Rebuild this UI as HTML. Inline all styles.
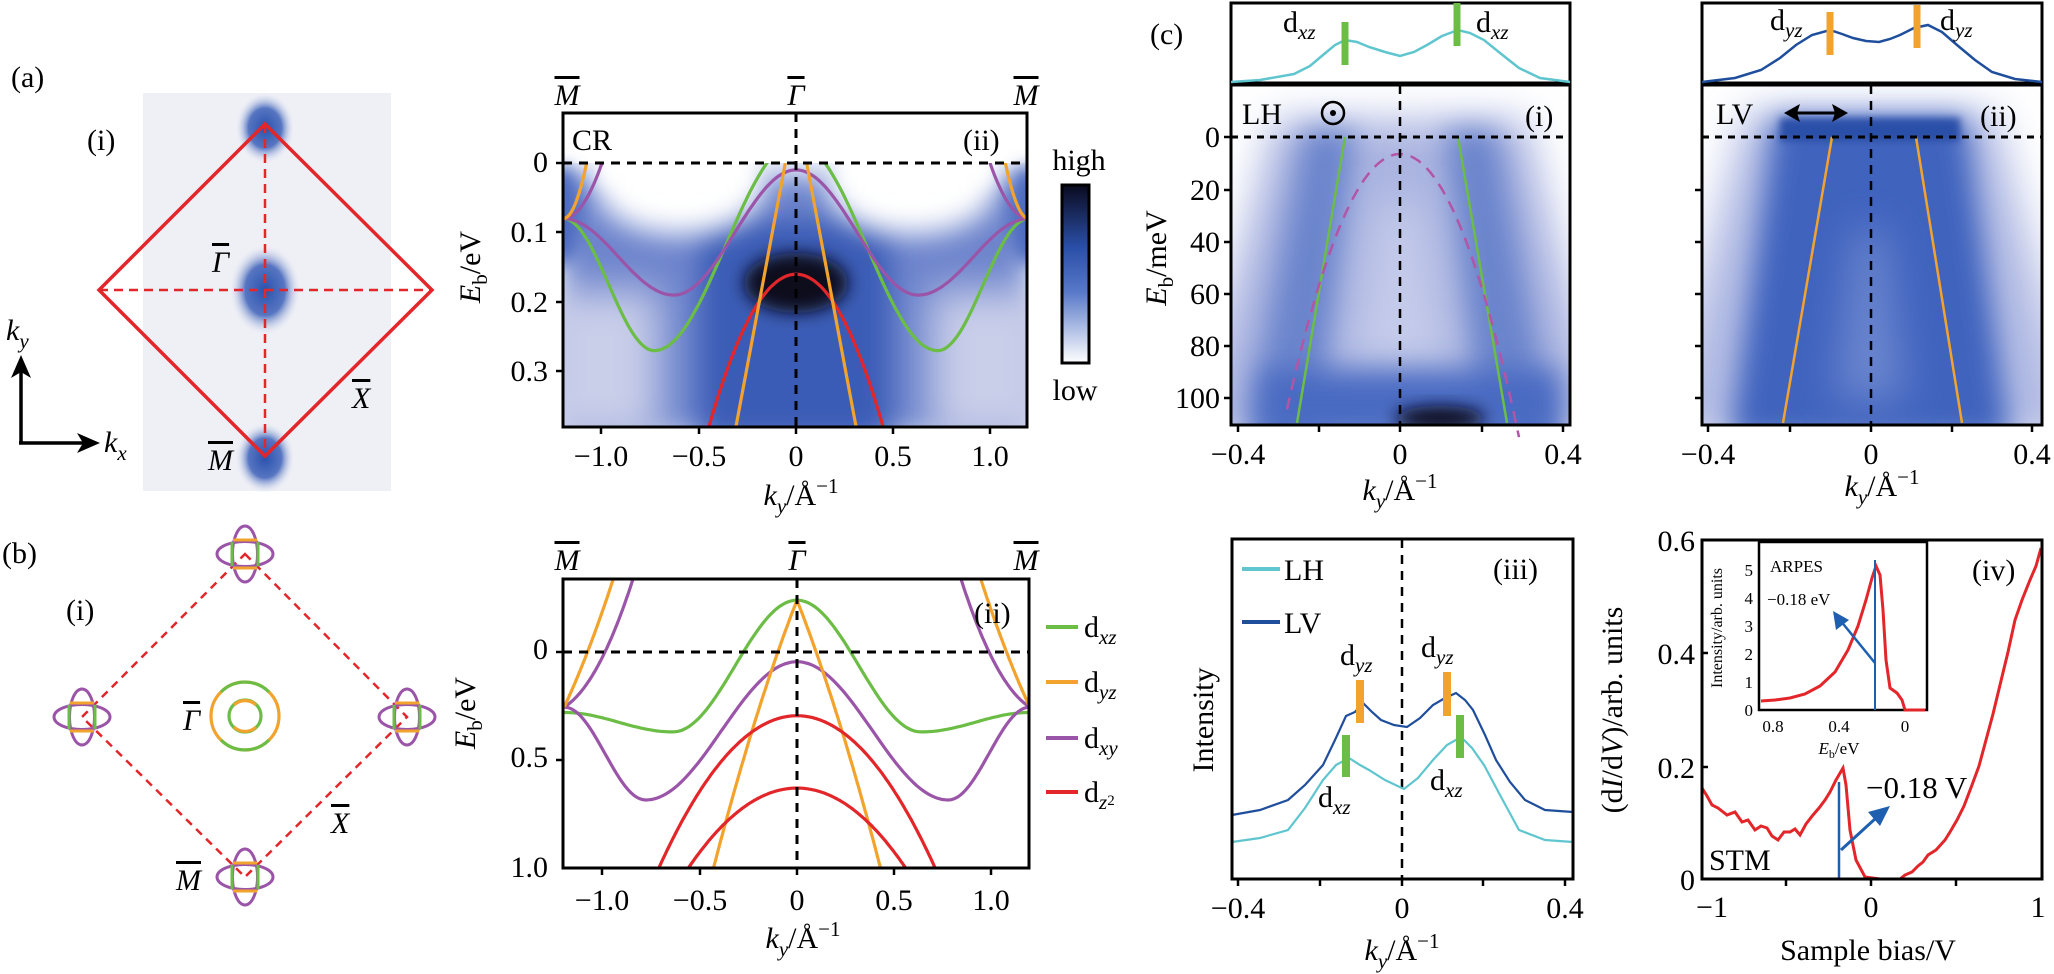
<!DOCTYPE html>
<html><head><meta charset="utf-8"><style>
html,body{margin:0;padding:0;background:#fff;}
svg{display:block;font-family:"Liberation Serif","DejaVu Serif",serif;}
svg text{font-family:"Liberation Serif","DejaVu Serif",serif;}
.ob{text-decoration:overline;}
</style></head><body>
<svg id="s" width="2054" height="974" viewBox="0 0 2054 974" xmlns="http://www.w3.org/2000/svg" font-family="Liberation Serif, serif">
<defs>
<filter id="b4" x="-50%" y="-50%" width="200%" height="200%"><feGaussianBlur stdDeviation="4"/></filter>
<filter id="b8" x="-50%" y="-50%" width="200%" height="200%"><feGaussianBlur stdDeviation="8"/></filter>
<filter id="b14" x="-50%" y="-50%" width="200%" height="200%"><feGaussianBlur stdDeviation="14"/></filter>
<filter id="b20" x="-50%" y="-50%" width="200%" height="200%"><feGaussianBlur stdDeviation="20"/></filter>
<radialGradient id="blob"><stop offset="0" stop-color="#2a52ad"/><stop offset="0.55" stop-color="#3b5fb8" stop-opacity="0.85"/><stop offset="1" stop-color="#eef0f7" stop-opacity="0"/></radialGradient>
<linearGradient id="cbar" x1="0" y1="0" x2="0" y2="1"><stop offset="0" stop-color="#0a0a1e"/><stop offset="0.35" stop-color="#2a4fa8"/><stop offset="0.6" stop-color="#5878c8"/><stop offset="1" stop-color="#ffffff"/></linearGradient>
<clipPath id="ca"><rect x="563" y="113" width="464" height="314"/></clipPath>
<clipPath id="caL"><rect x="563" y="163" width="464" height="264"/></clipPath>
<clipPath id="cb"><rect x="563" y="579" width="466" height="289"/></clipPath>
<clipPath id="c1"><rect x="1231" y="85" width="339" height="340"/></clipPath>
<clipPath id="c2"><rect x="1702" y="85" width="340" height="340"/></clipPath>
</defs>

<!-- ============ (a)(i) ============ -->
<text x="11" y="87" font-size="30">(a)</text>
<rect x="143" y="93" width="248" height="398" fill="#eff0f6"/>
<ellipse cx="265" cy="128" rx="30" ry="36" fill="url(#blob)"/>
<ellipse cx="265" cy="290" rx="36" ry="46" fill="url(#blob)"/>
<ellipse cx="265" cy="458" rx="30" ry="36" fill="url(#blob)"/>
<polygon points="265,124 432,290 265,456 99,290" fill="none" stroke="#e2262a" stroke-width="3.5"/>
<line x1="99" y1="290" x2="432" y2="290" stroke="#e2262a" stroke-width="2.5" stroke-dasharray="9,6"/>
<line x1="265" y1="124" x2="265" y2="456" stroke="#e2262a" stroke-width="2.5" stroke-dasharray="9,6"/>
<text x="87" y="150" font-size="30">(i)</text>
<text x="212" y="272" font-size="30" font-style="italic" class="ob">Γ</text>
<text x="352" y="408" font-size="30" font-style="italic" class="ob">X</text>
<text x="208" y="470" font-size="30" font-style="italic" class="ob">M</text>
<line x1="21" y1="443" x2="21" y2="372" stroke="#000" stroke-width="3.5"/>
<polygon points="21,355 11,378 21,372 31,378" fill="#000"/>
<line x1="19" y1="443" x2="84" y2="443" stroke="#000" stroke-width="3.5"/>
<polygon points="100,443 77,433 83,443 77,453" fill="#000"/>
<text x="6" y="340" font-size="30" font-style="italic">k<tspan font-size="21" dy="8">y</tspan></text>
<text x="104" y="452" font-size="30" font-style="italic">k<tspan font-size="21" dy="8">x</tspan></text>

<!-- ============ (a)(ii) heatmap ============ -->
<g clip-path="url(#ca)">
 <rect x="563" y="113" width="464" height="314" fill="#fff"/>
 <rect x="563" y="175" width="464" height="260" fill="#6d84cc" filter="url(#b14)"/>
 <rect x="540" y="290" width="120" height="150" fill="#c9cee9" filter="url(#b20)"/>
 <rect x="930" y="290" width="120" height="150" fill="#c9cee9" filter="url(#b20)"/>
 <rect x="700" y="220" width="190" height="220" fill="#3a5cb6" filter="url(#b14)"/>
 <ellipse cx="680" cy="185" rx="85" ry="50" fill="#fff" filter="url(#b14)"/>
 <ellipse cx="912" cy="185" rx="85" ry="50" fill="#fff" filter="url(#b14)"/>
 <rect x="563" y="113" width="464" height="50" fill="#fff"/>
 <rect x="600" y="150" width="150" height="35" fill="#fff" filter="url(#b8)"/>
 <rect x="842" y="150" width="150" height="35" fill="#fff" filter="url(#b8)"/>
 <ellipse cx="563" cy="215" rx="20" ry="50" fill="#4d6cc0" filter="url(#b8)"/>
 <ellipse cx="1027" cy="215" rx="20" ry="50" fill="#4d6cc0" filter="url(#b8)"/>
 <ellipse cx="796" cy="283" rx="52" ry="30" fill="#08081a" filter="url(#b8)"/>
</g>
<g clip-path="url(#caL)" id="bandsA" fill="none" stroke-width="3.2"></g>
<line x1="563" y1="163" x2="1027" y2="163" stroke="#000" stroke-width="3" stroke-dasharray="9,7"/>
<line x1="796" y1="113" x2="796" y2="427" stroke="#000" stroke-width="3" stroke-dasharray="9,7"/>
<rect x="563" y="113" width="464" height="314" fill="none" stroke="#000" stroke-width="3"/>
<g stroke="#000" stroke-width="2.5">
<line x1="601" y1="427" x2="601" y2="434"/><line x1="699" y1="427" x2="699" y2="434"/><line x1="796" y1="427" x2="796" y2="434"/><line x1="893" y1="427" x2="893" y2="434"/><line x1="990" y1="427" x2="990" y2="434"/>
<line x1="556" y1="163" x2="563" y2="163"/><line x1="556" y1="232" x2="563" y2="232"/><line x1="556" y1="302" x2="563" y2="302"/><line x1="556" y1="371" x2="563" y2="371"/>
</g>
<g font-size="30" text-anchor="middle">
<text x="601" y="466">−1.0</text><text x="699" y="466">−0.5</text><text x="796" y="466">0</text><text x="893" y="466">0.5</text><text x="990" y="466">1.0</text>
</g>
<g font-size="30" text-anchor="end">
<text x="548" y="172">0</text><text x="548" y="242">0.1</text><text x="548" y="312">0.2</text><text x="548" y="381">0.3</text>
</g>
<text transform="translate(480,267) rotate(-90)" font-size="30" text-anchor="middle"><tspan font-style="italic">E</tspan><tspan font-size="21" dy="7">b</tspan><tspan dy="-7">/eV</tspan></text>
<text x="801" y="505" font-size="30" text-anchor="middle"><tspan font-style="italic">k</tspan><tspan font-size="21" font-style="italic" dy="8">y</tspan><tspan dy="-8">/Å</tspan><tspan font-size="21" dy="-12">−1</tspan></text>
<g font-size="30" font-style="italic" text-anchor="middle" class="ob">
<text x="567" y="105" class="ob">M</text><text x="796" y="105" class="ob">Γ</text><text x="1026" y="105" class="ob">M</text>
</g>
<text x="572" y="150" font-size="30">CR</text>
<text x="963" y="150" font-size="30">(ii)</text>
<rect x="1062" y="185" width="27" height="178" fill="url(#cbar)" stroke="#000" stroke-width="3"/>
<text x="1079" y="170" font-size="30" text-anchor="middle">high</text>
<text x="1075" y="400" font-size="30" text-anchor="middle">low</text>

<!-- ============ (b)(i) ============ -->
<text x="2" y="563" font-size="30">(b)</text>
<text x="66" y="620" font-size="30">(i)</text>
<polygon points="245,554 407,717 245,877 82,717" fill="none" stroke="#e2262a" stroke-width="2.5" stroke-dasharray="8,6"/>
<g id="corners"></g>
<g fill="none" stroke-width="3.2">
 <circle cx="245" cy="716" r="34" stroke="#f2a32e"/>
 <path d="M221,692 A34,34 0 0 1 269,692" stroke="#6cbd46"/>
 <path d="M221,740 A34,34 0 0 0 269,740" stroke="#6cbd46"/>
 <circle cx="245" cy="716" r="16" stroke="#6cbd46"/>
 <path d="M234,705 A16,16 0 0 1 256,705" stroke="#f2a32e"/>
 <path d="M234,727 A16,16 0 0 0 256,727" stroke="#f2a32e"/>
</g>
<text x="183" y="730" font-size="30" font-style="italic" class="ob">Γ</text>
<text x="331" y="833" font-size="30" font-style="italic" class="ob">X</text>
<text x="176" y="890" font-size="30" font-style="italic" class="ob">M</text>

<!-- ============ (b)(ii) ============ -->
<g clip-path="url(#cb)" id="bandsB" fill="none" stroke-width="3.2"></g>
<line x1="563" y1="652" x2="1029" y2="652" stroke="#000" stroke-width="3" stroke-dasharray="9,7"/>
<line x1="797" y1="579" x2="797" y2="868" stroke="#000" stroke-width="3" stroke-dasharray="9,7"/>
<rect x="563" y="579" width="466" height="289" fill="none" stroke="#000" stroke-width="3"/>
<g stroke="#000" stroke-width="2.5">
<line x1="602" y1="868" x2="602" y2="875"/><line x1="700" y1="868" x2="700" y2="875"/><line x1="797" y1="868" x2="797" y2="875"/><line x1="894" y1="868" x2="894" y2="875"/><line x1="991" y1="868" x2="991" y2="875"/>
<line x1="556" y1="652" x2="563" y2="652"/><line x1="556" y1="760" x2="563" y2="760"/>
</g>
<g font-size="30" text-anchor="middle">
<text x="602" y="910">−1.0</text><text x="700" y="910">−0.5</text><text x="797" y="910">0</text><text x="894" y="910">0.5</text><text x="991" y="910">1.0</text>
</g>
<g font-size="30" text-anchor="end">
<text x="548" y="659">0</text><text x="548" y="767">0.5</text><text x="548" y="877">1.0</text>
</g>
<text transform="translate(475,713) rotate(-90)" font-size="30" text-anchor="middle"><tspan font-style="italic">E</tspan><tspan font-size="21" dy="7">b</tspan><tspan dy="-7">/eV</tspan></text>
<text x="803" y="948" font-size="30" text-anchor="middle"><tspan font-style="italic">k</tspan><tspan font-size="21" font-style="italic" dy="8">y</tspan><tspan dy="-8">/Å</tspan><tspan font-size="21" dy="-12">−1</tspan></text>
<g font-size="30" font-style="italic" text-anchor="middle">
<text x="567" y="570" class="ob">M</text><text x="797" y="570" class="ob">Γ</text><text x="1026" y="570" class="ob">M</text>
</g>
<text x="974" y="623" font-size="30">(ii)</text>
<g stroke-width="4">
<line x1="1046" y1="627" x2="1078" y2="627" stroke="#6cbd46"/>
<line x1="1046" y1="682" x2="1078" y2="682" stroke="#f2a32e"/>
<line x1="1046" y1="738" x2="1078" y2="738" stroke="#9b55a8"/>
<line x1="1046" y1="792" x2="1078" y2="792" stroke="#e2262a"/>
</g>
<g font-size="30">
<text x="1084" y="637">d<tspan font-size="21" font-style="italic" dy="7">xz</tspan></text>
<text x="1084" y="692">d<tspan font-size="21" font-style="italic" dy="7">yz</tspan></text>
<text x="1084" y="748">d<tspan font-size="21" font-style="italic" dy="7">xy</tspan></text>
<text x="1084" y="802">d<tspan font-size="21" font-style="italic" dy="7">z</tspan><tspan font-size="15" dy="-4">2</tspan></text>
</g>

<!-- ============ (c) top EDC boxes ============ -->
<text x="1150" y="44" font-size="30">(c)</text>
<rect x="1231" y="3" width="339" height="80" fill="none" stroke="#000" stroke-width="3"/>
<rect x="1702" y="3" width="340" height="80" fill="none" stroke="#000" stroke-width="3"/>
<polyline fill="none" stroke="#5fc5cf" stroke-width="2.5" points="1231,82 1260,80 1294,74 1310,66 1323,55 1335,45 1345,40 1357,42 1369,47 1385,52 1400,56 1414,52 1427,45 1442,36 1458,30 1470,33 1484,40 1500,53 1519,68 1540,78 1570,82"/>
<polyline fill="none" stroke="#1f4e9c" stroke-width="2.5" points="1702,82 1735,78 1761,70 1780,58 1796,45 1812,35 1830,30 1842,34 1853,38 1866,41 1879,42 1890,39 1900,35 1914,28 1928,25 1942,32 1957,45 1975,60 1992,72 2015,79 2042,82"/>
<g stroke-width="7">
<line x1="1345" y1="22" x2="1345" y2="65" stroke="#6cbd46"/>
<line x1="1457" y1="3" x2="1457" y2="46" stroke="#6cbd46"/>
<line x1="1830" y1="12" x2="1830" y2="55" stroke="#f2a32e"/>
<line x1="1917" y1="5" x2="1917" y2="48" stroke="#f2a32e"/>
</g>
<g font-size="30">
<text x="1283" y="32">d<tspan font-size="21" font-style="italic" dy="7">xz</tspan></text>
<text x="1476" y="32">d<tspan font-size="21" font-style="italic" dy="7">xz</tspan></text>
<text x="1770" y="30">d<tspan font-size="21" font-style="italic" dy="7">yz</tspan></text>
<text x="1940" y="30">d<tspan font-size="21" font-style="italic" dy="7">yz</tspan></text>
</g>

<!-- ============ (c)(i) heatmap ============ -->
<g clip-path="url(#c1)">
 <rect x="1231" y="85" width="339" height="340" fill="#fff"/>
 <polygon points="1275,120 1525,120 1610,440 1190,440" fill="#aab4e0" filter="url(#b20)"/>
 <polygon points="1305,130 1355,130 1320,440 1245,440" fill="#6a84cc" filter="url(#b14)"/>
 <polygon points="1445,130 1495,130 1555,440 1480,440" fill="#6a84cc" filter="url(#b14)"/>
 <polygon points="1380,200 1420,200 1450,370 1350,370" fill="#c4cbea" filter="url(#b20)"/>
 <rect x="1260" y="370" width="300" height="70" fill="#4a6bc2" filter="url(#b14)"/>
 <ellipse cx="1440" cy="418" rx="45" ry="12" fill="#0c0c24" filter="url(#b8)"/>
</g>
<line x1="1345" y1="137" x2="1297" y2="423" stroke="#6cbd46" stroke-width="2.5"/>
<line x1="1458" y1="137" x2="1507" y2="423" stroke="#6cbd46" stroke-width="2.5"/>
<path id="parab" fill="none" stroke="#b355a6" stroke-width="2.5" stroke-dasharray="12,8"/>
<line x1="1231" y1="137" x2="1570" y2="137" stroke="#000" stroke-width="3" stroke-dasharray="7,6"/>
<line x1="1400" y1="85" x2="1400" y2="425" stroke="#000" stroke-width="2.5" stroke-dasharray="9,7"/>
<rect x="1231" y="85" width="339" height="340" fill="none" stroke="#000" stroke-width="3"/>
<text x="1242" y="124" font-size="30">LH</text>
<circle cx="1333" cy="113" r="11" fill="none" stroke="#000" stroke-width="2.5"/>
<circle cx="1333" cy="113" r="3" fill="#000"/>
<text x="1525" y="126" font-size="30">(i)</text>
<g stroke="#000" stroke-width="2.5">
<line x1="1238" y1="425" x2="1238" y2="432"/><line x1="1319" y1="425" x2="1319" y2="432"/><line x1="1400" y1="425" x2="1400" y2="432"/><line x1="1482" y1="425" x2="1482" y2="432"/><line x1="1563" y1="425" x2="1563" y2="432"/>
<line x1="1224" y1="137" x2="1231" y2="137"/><line x1="1224" y1="190" x2="1231" y2="190"/><line x1="1224" y1="242" x2="1231" y2="242"/><line x1="1224" y1="294" x2="1231" y2="294"/><line x1="1224" y1="346" x2="1231" y2="346"/><line x1="1224" y1="398" x2="1231" y2="398"/>
</g>
<g font-size="30" text-anchor="end">
<text x="1220" y="147">0</text><text x="1220" y="200">20</text><text x="1220" y="252">40</text><text x="1220" y="304">60</text><text x="1220" y="356">80</text><text x="1220" y="408">100</text>
</g>
<text transform="translate(1166,258) rotate(-90)" font-size="30" text-anchor="middle"><tspan font-style="italic">E</tspan><tspan font-size="21" dy="7">b</tspan><tspan dy="-7">/meV</tspan></text>
<g font-size="30" text-anchor="middle">
<text x="1238" y="464">−0.4</text><text x="1400" y="464">0</text><text x="1563" y="464">0.4</text>
</g>
<text x="1400" y="500" font-size="30" text-anchor="middle"><tspan font-style="italic">k</tspan><tspan font-size="21" font-style="italic" dy="8">y</tspan><tspan dy="-8">/Å</tspan><tspan font-size="21" dy="-12">−1</tspan></text>

<!-- ============ (c)(ii) heatmap ============ -->
<g clip-path="url(#c2)">
 <rect x="1702" y="85" width="340" height="340" fill="#fff"/>
 <polygon points="1745,112 1995,112 2085,440 1655,440" fill="#b3bce4" filter="url(#b20)"/>
 <polygon points="1775,118 1965,118 2010,440 1730,440" fill="#3f63be" filter="url(#b14)"/>
 <polygon points="1855,230 1885,230 1905,400 1835,400" fill="#6c86cf" filter="url(#b20)"/>
 <rect x="1780" y="118" width="180" height="24" fill="#2c4fa8" filter="url(#b4)"/>
</g>
<line x1="1832" y1="137" x2="1783" y2="423" stroke="#f2a32e" stroke-width="2.5"/>
<line x1="1916" y1="137" x2="1962" y2="423" stroke="#f2a32e" stroke-width="2.5"/>
<line x1="1702" y1="137" x2="2042" y2="137" stroke="#000" stroke-width="3" stroke-dasharray="7,6"/>
<line x1="1871" y1="85" x2="1871" y2="425" stroke="#000" stroke-width="2.5" stroke-dasharray="9,7"/>
<rect x="1702" y="85" width="340" height="340" fill="none" stroke="#000" stroke-width="3"/>
<text x="1716" y="124" font-size="30">LV</text>
<line x1="1795" y1="113" x2="1837" y2="113" stroke="#000" stroke-width="3"/>
<polygon points="1784,113 1800,104 1797,113 1800,122" fill="#000"/>
<polygon points="1848,113 1832,104 1835,113 1832,122" fill="#000"/>
<text x="1980" y="126" font-size="30">(ii)</text>
<g stroke="#000" stroke-width="2.5">
<line x1="1708" y1="425" x2="1708" y2="432"/><line x1="1790" y1="425" x2="1790" y2="432"/><line x1="1871" y1="425" x2="1871" y2="432"/><line x1="1952" y1="425" x2="1952" y2="432"/><line x1="2032" y1="425" x2="2032" y2="432"/>
<line x1="1695" y1="190" x2="1702" y2="190"/><line x1="1695" y1="242" x2="1702" y2="242"/><line x1="1695" y1="294" x2="1702" y2="294"/><line x1="1695" y1="346" x2="1702" y2="346"/><line x1="1695" y1="398" x2="1702" y2="398"/>
</g>
<g font-size="30" text-anchor="middle">
<text x="1708" y="464">−0.4</text><text x="1871" y="464">0</text><text x="2032" y="464">0.4</text>
</g>
<text x="1882" y="496" font-size="30" text-anchor="middle"><tspan font-style="italic">k</tspan><tspan font-size="21" font-style="italic" dy="8">y</tspan><tspan dy="-8">/Å</tspan><tspan font-size="21" dy="-12">−1</tspan></text>

<!-- ============ (c)(iii) ============ -->
<line x1="1402" y1="539" x2="1402" y2="879" stroke="#000" stroke-width="2.5" stroke-dasharray="9,7"/>
<polyline fill="none" stroke="#1f4e9c" stroke-width="2.2" points="1232,815 1260,810 1288,800 1305,785 1323,765 1335,740 1346,716 1355,712 1363,703 1372,712 1381,720 1394,725 1407,727 1420,718 1433,705 1445,698 1456,693 1465,700 1473,710 1485,735 1496,760 1510,782 1525,800 1545,810 1573,812"/>
<polyline fill="none" stroke="#5fc5cf" stroke-width="2.2" points="1232,842 1260,838 1288,830 1305,808 1323,780 1336,765 1349,758 1360,765 1369,770 1385,780 1404,789 1418,778 1433,760 1447,745 1461,737 1472,748 1484,765 1500,795 1519,830 1545,840 1573,842"/>
<g stroke-width="8">
<line x1="1360" y1="680" x2="1360" y2="723" stroke="#f2a32e"/>
<line x1="1447" y1="672" x2="1447" y2="716" stroke="#f2a32e"/>
<line x1="1346" y1="735" x2="1346" y2="777" stroke="#6cbd46"/>
<line x1="1460" y1="715" x2="1460" y2="758" stroke="#6cbd46"/>
</g>
<g font-size="30">
<text x="1340" y="665">d<tspan font-size="21" font-style="italic" dy="7">yz</tspan></text>
<text x="1421" y="657">d<tspan font-size="21" font-style="italic" dy="7">yz</tspan></text>
<text x="1318" y="807">d<tspan font-size="21" font-style="italic" dy="7">xz</tspan></text>
<text x="1430" y="790">d<tspan font-size="21" font-style="italic" dy="7">xz</tspan></text>
</g>
<rect x="1232" y="539" width="341" height="340" fill="none" stroke="#000" stroke-width="3"/>
<line x1="1242" y1="569" x2="1280" y2="569" stroke="#5fc5cf" stroke-width="4"/>
<line x1="1242" y1="622" x2="1280" y2="622" stroke="#1f4e9c" stroke-width="4"/>
<text x="1284" y="580" font-size="30">LH</text>
<text x="1284" y="633" font-size="30">LV</text>
<text x="1493" y="579" font-size="30">(iii)</text>
<g stroke="#000" stroke-width="2.5">
<line x1="1238" y1="879" x2="1238" y2="886"/><line x1="1320" y1="879" x2="1320" y2="886"/><line x1="1402" y1="879" x2="1402" y2="886"/><line x1="1483" y1="879" x2="1483" y2="886"/><line x1="1565" y1="879" x2="1565" y2="886"/>
</g>
<g font-size="30" text-anchor="middle">
<text x="1238" y="918">−0.4</text><text x="1402" y="918">0</text><text x="1565" y="918">0.4</text>
</g>
<text x="1402" y="960" font-size="30" text-anchor="middle"><tspan font-style="italic">k</tspan><tspan font-size="21" font-style="italic" dy="8">y</tspan><tspan dy="-8">/Å</tspan><tspan font-size="21" dy="-12">−1</tspan></text>
<text transform="translate(1213,720) rotate(-90)" font-size="30" text-anchor="middle">Intensity</text>

<!-- ============ (c)(iv) ============ -->
<polyline fill="none" stroke="#e2262a" stroke-width="3" points="1702,788 1707,796 1712,805 1718,808 1727,815 1735,812 1742,822 1748,820 1755,830 1761,826 1767,828 1772,836 1778,840 1784,832 1790,832 1795,829 1800,835 1806,824 1813,815 1819,808 1825,800 1830,792 1836,780 1843,768 1846,785 1850,830 1856,860 1865,877 1880,879 1900,879 1905,875 1912,872 1918,866 1923,862 1928,855 1936,850 1945,840 1950,832 1957,820 1964,806 1972,785 1979,766 1986,740 1993,714 2000,685 2008,652 2015,620 2022,600 2030,580 2036,566 2041,548"/>
<line x1="1839" y1="782" x2="1839" y2="879" stroke="#1f5fb0" stroke-width="2.5"/>
<line x1="1841" y1="850" x2="1876" y2="818" stroke="#1f5fb0" stroke-width="3"/>
<polygon points="1890,806 1868,812 1880,826" fill="#1f5fb0"/>
<rect x="1702" y="540" width="340" height="339" fill="none" stroke="#000" stroke-width="3"/>
<g stroke="#000" stroke-width="2.5">
<line x1="1786" y1="879" x2="1786" y2="886"/><line x1="1871" y1="879" x2="1871" y2="886"/><line x1="1956" y1="879" x2="1956" y2="886"/>
<line x1="1702" y1="653" x2="1708" y2="653"/><line x1="1702" y1="767" x2="1708" y2="767"/>
</g>
<g font-size="30" text-anchor="end">
<text x="1695" y="551">0.6</text><text x="1695" y="664">0.4</text><text x="1695" y="778">0.2</text><text x="1695" y="890">0</text>
</g>
<g font-size="30" text-anchor="middle">
<text x="1712" y="917">−1</text><text x="1871" y="917">0</text><text x="2038" y="917">1</text>
</g>
<text x="1868" y="960" font-size="30" text-anchor="middle">Sample bias/V</text>
<text transform="translate(1622,710) rotate(-90)" font-size="30" text-anchor="middle">(d<tspan font-style="italic">I</tspan>/d<tspan font-style="italic">V</tspan>)/arb. units</text>
<text x="1709" y="870" font-size="30">STM</text>
<text x="1866" y="798" font-size="31">−0.18 V</text>
<text x="1972" y="580" font-size="30">(iv)</text>
<!-- inset -->
<rect x="1759" y="542" width="168" height="168" fill="#fff" stroke="#000" stroke-width="2.5"/>
<polyline fill="none" stroke="#e2262a" stroke-width="3" points="1761,701 1775,700 1790,698 1805,694 1820,686 1835,672 1848,650 1858,626 1866,600 1872,578 1876,566 1880,575 1883,610 1886,660 1890,688 1897,693 1902,700 1905,710 1925,710"/>
<line x1="1875" y1="560" x2="1875" y2="710" stroke="#1f5fb0" stroke-width="2"/>
<line x1="1875" y1="663" x2="1840" y2="620" stroke="#1f5fb0" stroke-width="2.5"/>
<polygon points="1833,611 1836,630 1849,620" fill="#1f5fb0"/>
<text x="1770" y="572" font-size="17">ARPES</text>
<text x="1767" y="605" font-size="17">−0.18 eV</text>
<g font-size="17" text-anchor="end">
<text x="1753" y="716">0</text><text x="1753" y="688">1</text><text x="1753" y="660">2</text><text x="1753" y="632">3</text><text x="1753" y="604">4</text><text x="1753" y="576">5</text>
</g>
<g font-size="17" text-anchor="middle">
<text x="1773" y="732">0.8</text><text x="1839" y="732">0.4</text><text x="1905" y="732">0</text>
</g>
<text x="1839" y="754" font-size="17" text-anchor="middle"><tspan font-style="italic">E</tspan><tspan font-size="12" dy="4">b</tspan><tspan dy="-4">/eV</tspan></text>
<text transform="translate(1722,628) rotate(-90)" font-size="16" text-anchor="middle">Intensity/arb. units</text>
</svg>
<script>
(function(){
var NS="http://www.w3.org/2000/svg";
function mk(g,d,c){var p=document.createElementNS(NS,"path");p.setAttribute("d",d);p.setAttribute("stroke",c);g.appendChild(p);}
function curve(f,k0,k1,X,Y){var s="",n=160;for(var i=0;i<=n;i++){var k=k0+(k1-k0)*i/n;s+=(i?"L":"M")+X(k).toFixed(1)+","+Y(f(k)).toFixed(1);}return s;}
var G="#6cbd46",O="#f2a32e",P="#9b55a8",R="#e2262a";
var C=Math.cos,PI=Math.PI,abs=Math.abs;
var gA=document.getElementById("bandsA");
var XA=function(k){return 796+194*k},YA=function(E){return 163+695*E};
var M=1.2;
mk(gA,curve(function(k){var a=abs(k);return a<0.73?-0.03+0.30*(1-C(PI*a/0.73))/2:0.08+0.19*(1+C(PI*(a-0.73)/(M-0.73)))/2},-M,M,XA,YA),G);
mk(gA,curve(function(k){var a=abs(k);return a<0.63?0.01+0.18*(1-C(PI*a/0.63))/2:0.08+0.11*(1+C(PI*(a-0.63)/(M-0.63)))/2},-M,M,XA,YA),P);
mk(gA,curve(function(k){return 0.16+1.09*k*k},-0.5,0.5,XA,YA),R);
mk(gA,"M"+XA(-0.055)+","+YA(0)+"L"+XA(-0.31)+","+YA(0.38),O);
mk(gA,"M"+XA(0.055)+","+YA(0)+"L"+XA(0.31)+","+YA(0.38),O);
[-1,1].forEach(function(s){
 mk(gA,curve(function(k){var d=M-abs(k);return 0.08-2*d*d},s*M,s*(M-0.22),XA,YA),P);
 mk(gA,curve(function(k){var d=M-abs(k);return 0.08-5.5*d*d},s*M,s*(M-0.14),XA,YA),O);
});
var gB=document.getElementById("bandsB");
var XB=function(k){return 797+194*k},YB=function(E){return 652+216*E};
mk(gB,curve(function(k){var a=abs(k);return a<0.64?-0.24+0.61*(1-C(PI*a/0.64))/2:0.28+0.09*(1+C(PI*(a-0.64)/(M-0.64)))/2},-M,M,XB,YB),G);
mk(gB,curve(function(k){var a=abs(k);return a<0.78?0.045+0.64*(1-C(PI*a/0.78))/2:0.255+0.43*(1+C(PI*(a-0.78)/(M-0.78)))/2},-M,M,XB,YB),P);
mk(gB,curve(function(k){var a=abs(k);return -0.24+2.3*a+1.35*a*a},-0.46,0.46,XB,YB),O);
mk(gB,curve(function(k){return 0.295+1.39*k*k},-0.8,0.8,XB,YB),R);
mk(gB,curve(function(k){return 0.63+1.18*k*k},-0.65,0.65,XB,YB),R);
[-1,1].forEach(function(s){
 mk(gB,curve(function(k){var d=M-abs(k);return 0.255-0.553*d-3.15*d*d},s*M,s*(M-0.42),XB,YB),P);
 mk(gB,curve(function(k){var d=M-abs(k);return 0.255-1.927*d-1.65*d*d},s*M,s*(M-0.32),XB,YB),O);
});
var d="";for(var i=0;i<=60;i++){var x=1287+(1519-1287)*i/60;var y=154+269*Math.pow((x-1400)/116,2);d+=(i?"L":"M")+x.toFixed(1)+","+y.toFixed(1);}
document.getElementById("parab").setAttribute("d",d);
var gc=document.getElementById("corners");
[[245,554],[82,717],[407,717],[245,877]].forEach(function(c){
 var x=c[0],y=c[1];
 var h='<ellipse cx="'+x+'" cy="'+y+'" rx="28" ry="12.5" fill="none" stroke="'+P+'" stroke-width="3"/>'+
 '<ellipse cx="'+x+'" cy="'+y+'" rx="12.5" ry="28" fill="none" stroke="'+P+'" stroke-width="3"/>'+
 '<line x1="'+(x-13)+'" y1="'+(y-12)+'" x2="'+(x-13)+'" y2="'+(y+12)+'" stroke="'+G+'" stroke-width="3"/>'+
 '<line x1="'+(x+13)+'" y1="'+(y-12)+'" x2="'+(x+13)+'" y2="'+(y+12)+'" stroke="'+G+'" stroke-width="3"/>'+
 '<line x1="'+(x-12)+'" y1="'+(y-14)+'" x2="'+(x+12)+'" y2="'+(y-14)+'" stroke="'+O+'" stroke-width="3"/>'+
 '<line x1="'+(x-12)+'" y1="'+(y+14)+'" x2="'+(x+12)+'" y2="'+(y+14)+'" stroke="'+O+'" stroke-width="3"/>';
 gc.insertAdjacentHTML("beforeend",h);
});
})();
</script>
</body></html>
